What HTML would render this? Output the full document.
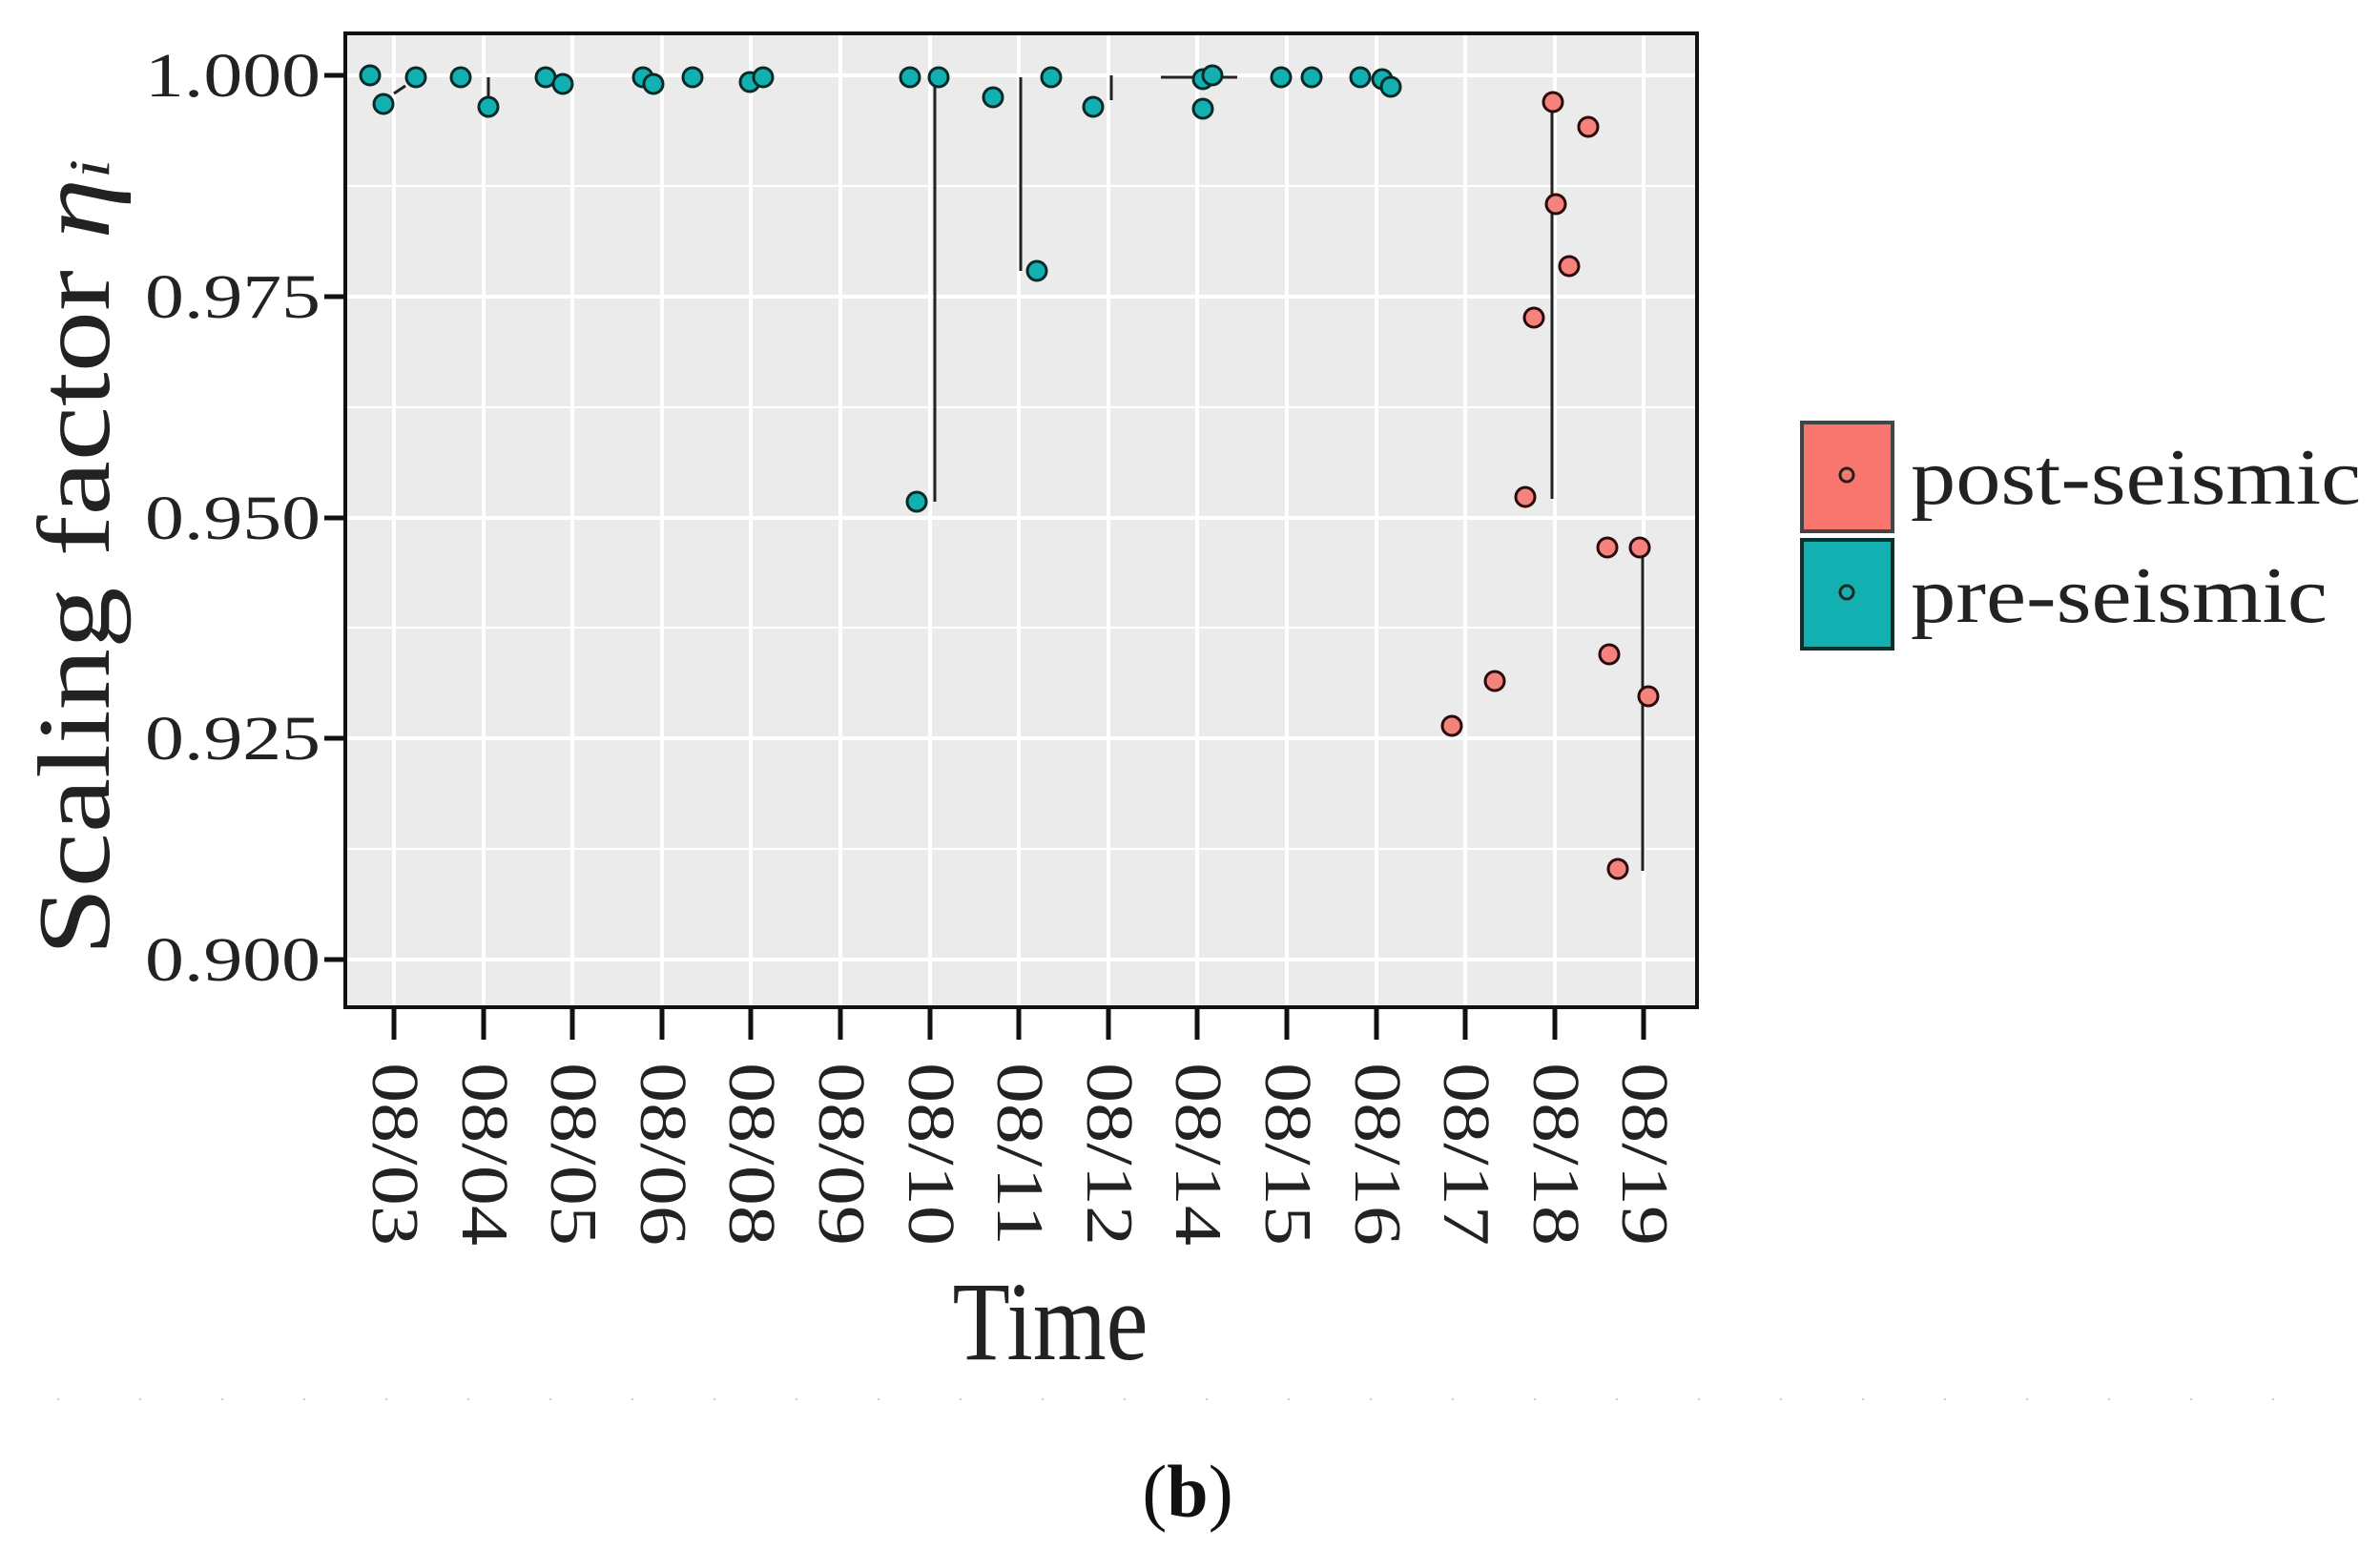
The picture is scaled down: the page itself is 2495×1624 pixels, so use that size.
<!DOCTYPE html>
<html><head><meta charset="utf-8"><style>html,body{margin:0;padding:0;background:#fff}svg{display:block}text,tspan{font-family:'Liberation Serif','Times New Roman',Times,serif !important}</style></head>
<body>
<svg width="2495" height="1624" viewBox="0 0 2495 1624" xmlns="http://www.w3.org/2000/svg" font-family="'Liberation Serif', 'Times New Roman', serif">
<rect x="0" y="0" width="2495" height="1624" fill="#fff"/>
<rect x="362" y="35" width="1417" height="1021" fill="#ebebeb"/>
<g stroke="#fff">
<g stroke-width="2">
<line x1="362" x2="1779" y1="195" y2="195"/><line x1="362" x2="1779" y1="427" y2="427"/>
<line x1="362" x2="1779" y1="658" y2="658"/><line x1="362" x2="1779" y1="890" y2="890"/>
</g>
<g stroke-width="4">
<line x1="362" x2="1779" y1="79" y2="79"/><line x1="362" x2="1779" y1="311" y2="311"/>
<line x1="362" x2="1779" y1="543" y2="543"/><line x1="362" x2="1779" y1="774" y2="774"/>
<line x1="362" x2="1779" y1="1006" y2="1006"/>
<line y1="35" y2="1056" x1="413" x2="413"/><line y1="35" y2="1056" x1="507" x2="507"/>
<line y1="35" y2="1056" x1="600" x2="600"/><line y1="35" y2="1056" x1="694" x2="694"/>
<line y1="35" y2="1056" x1="787" x2="787"/><line y1="35" y2="1056" x1="881" x2="881"/>
<line y1="35" y2="1056" x1="975" x2="975"/><line y1="35" y2="1056" x1="1068" x2="1068"/>
<line y1="35" y2="1056" x1="1162" x2="1162"/><line y1="35" y2="1056" x1="1255" x2="1255"/>
<line y1="35" y2="1056" x1="1349" x2="1349"/><line y1="35" y2="1056" x1="1443" x2="1443"/>
<line y1="35" y2="1056" x1="1536" x2="1536"/><line y1="35" y2="1056" x1="1630" x2="1630"/>
<line y1="35" y2="1056" x1="1723" x2="1723"/>
</g></g>
<g stroke="#222" stroke-width="3">
<line x1="980" x2="980" y1="81" y2="526"/><line x1="1070" x2="1070" y1="81" y2="284"/>
<line x1="1165" x2="1165" y1="79" y2="105"/><line x1="1217" x2="1297" y1="81" y2="81"/>
<line x1="512" x2="512" y1="81" y2="105"/><line x1="413" x2="425" y1="98" y2="90"/>
<line x1="1627" x2="1627" y1="107" y2="523"/><line x1="1722" x2="1722" y1="574" y2="913"/>
</g>
<g fill="#12b0b0" stroke="#0a2a2a" stroke-width="3">
<circle cx="388" cy="79" r="10"/><circle cx="402" cy="109" r="10"/><circle cx="436" cy="81" r="10"/>
<circle cx="483" cy="81" r="10"/><circle cx="512" cy="112" r="10"/><circle cx="572" cy="81" r="10"/>
<circle cx="590" cy="88" r="10"/><circle cx="674" cy="81" r="10"/><circle cx="685" cy="88" r="10"/>
<circle cx="726" cy="81" r="10"/><circle cx="786" cy="86" r="10"/><circle cx="800" cy="81" r="10"/>
<circle cx="954" cy="81" r="10"/><circle cx="984" cy="81" r="10"/><circle cx="961" cy="526" r="10"/>
<circle cx="1041" cy="102" r="10"/><circle cx="1087" cy="284" r="10"/><circle cx="1102" cy="81" r="10"/>
<circle cx="1146" cy="112" r="10"/><circle cx="1261" cy="83" r="10"/><circle cx="1271" cy="79" r="10"/>
<circle cx="1261" cy="114" r="10"/><circle cx="1343" cy="81" r="10"/><circle cx="1375" cy="81" r="10"/>
<circle cx="1426" cy="81" r="10"/><circle cx="1449" cy="83" r="10"/><circle cx="1458" cy="91" r="10"/>
</g>
<g fill="#f4837d" stroke="#2a0a0a" stroke-width="3">
<circle cx="1628" cy="107" r="10"/><circle cx="1665" cy="133" r="10"/><circle cx="1631" cy="214" r="10"/>
<circle cx="1645" cy="279" r="10"/><circle cx="1608" cy="333" r="10"/><circle cx="1599" cy="521" r="10"/>
<circle cx="1685" cy="574" r="10"/><circle cx="1719" cy="574" r="10"/><circle cx="1687" cy="686" r="10"/>
<circle cx="1567" cy="714" r="10"/><circle cx="1522" cy="761" r="10"/><circle cx="1728" cy="730" r="10"/>
<circle cx="1696" cy="911" r="10"/>
</g>
<rect x="362" y="35" width="1417" height="1021" fill="none" stroke="#111" stroke-width="4"/>
<g stroke="#111" stroke-width="5">
<line x1="340" x2="362" y1="79" y2="79"/><line x1="340" x2="362" y1="311" y2="311"/>
<line x1="340" x2="362" y1="543" y2="543"/><line x1="340" x2="362" y1="774" y2="774"/>
<line x1="340" x2="362" y1="1006" y2="1006"/>
<line y1="1056" y2="1090" x1="413" x2="413"/><line y1="1056" y2="1090" x1="507" x2="507"/>
<line y1="1056" y2="1090" x1="600" x2="600"/><line y1="1056" y2="1090" x1="694" x2="694"/>
<line y1="1056" y2="1090" x1="787" x2="787"/><line y1="1056" y2="1090" x1="881" x2="881"/>
<line y1="1056" y2="1090" x1="975" x2="975"/><line y1="1056" y2="1090" x1="1068" x2="1068"/>
<line y1="1056" y2="1090" x1="1162" x2="1162"/><line y1="1056" y2="1090" x1="1255" x2="1255"/>
<line y1="1056" y2="1090" x1="1349" x2="1349"/><line y1="1056" y2="1090" x1="1443" x2="1443"/>
<line y1="1056" y2="1090" x1="1536" x2="1536"/><line y1="1056" y2="1090" x1="1630" x2="1630"/>
<line y1="1056" y2="1090" x1="1723" x2="1723"/>
</g>
<g font-size="66" fill="#222" text-anchor="end">
<text x="336" y="101" textLength="184" lengthAdjust="spacingAndGlyphs">1.000</text>
<text x="336" y="333" textLength="184" lengthAdjust="spacingAndGlyphs">0.975</text>
<text x="336" y="565" textLength="184" lengthAdjust="spacingAndGlyphs">0.950</text>
<text x="336" y="796" textLength="184" lengthAdjust="spacingAndGlyphs">0.925</text>
<text x="336" y="1028" textLength="184" lengthAdjust="spacingAndGlyphs">0.900</text>
</g>
<g font-size="70" fill="#222">
<text transform="translate(391,1114) rotate(90)" textLength="192" lengthAdjust="spacingAndGlyphs">08/03</text>
<text transform="translate(485,1114) rotate(90)" textLength="192" lengthAdjust="spacingAndGlyphs">08/04</text>
<text transform="translate(578,1114) rotate(90)" textLength="192" lengthAdjust="spacingAndGlyphs">08/05</text>
<text transform="translate(672,1114) rotate(90)" textLength="192" lengthAdjust="spacingAndGlyphs">08/06</text>
<text transform="translate(765,1114) rotate(90)" textLength="192" lengthAdjust="spacingAndGlyphs">08/08</text>
<text transform="translate(859,1114) rotate(90)" textLength="192" lengthAdjust="spacingAndGlyphs">08/09</text>
<text transform="translate(953,1114) rotate(90)" textLength="192" lengthAdjust="spacingAndGlyphs">08/10</text>
<text transform="translate(1046,1114) rotate(90)" textLength="192" lengthAdjust="spacingAndGlyphs">08/11</text>
<text transform="translate(1140,1114) rotate(90)" textLength="192" lengthAdjust="spacingAndGlyphs">08/12</text>
<text transform="translate(1233,1114) rotate(90)" textLength="192" lengthAdjust="spacingAndGlyphs">08/14</text>
<text transform="translate(1327,1114) rotate(90)" textLength="192" lengthAdjust="spacingAndGlyphs">08/15</text>
<text transform="translate(1421,1114) rotate(90)" textLength="192" lengthAdjust="spacingAndGlyphs">08/16</text>
<text transform="translate(1514,1114) rotate(90)" textLength="192" lengthAdjust="spacingAndGlyphs">08/17</text>
<text transform="translate(1608,1114) rotate(90)" textLength="192" lengthAdjust="spacingAndGlyphs">08/18</text>
<text transform="translate(1701,1114) rotate(90)" textLength="192" lengthAdjust="spacingAndGlyphs">08/19</text>
</g>
<text transform="translate(114,1002) rotate(-90)" font-size="108" fill="#222" textLength="835" lengthAdjust="spacingAndGlyphs">Scaling factor <tspan font-style="italic">η</tspan><tspan font-style="italic" font-size="60">i</tspan></text>
<text x="1101" y="1425" font-size="118" fill="#222" text-anchor="middle" textLength="205" lengthAdjust="spacingAndGlyphs">Time</text>
<rect x="1889" y="443" width="95" height="114" fill="#f8766d" stroke="#444" stroke-width="4"/>
<rect x="1889" y="566" width="95" height="114" fill="#12b0b0" stroke="#0a3030" stroke-width="4"/>
<circle cx="1936" cy="498" r="7" fill="none" stroke="#222" stroke-width="3"/>
<circle cx="1936" cy="621" r="7" fill="none" stroke="#222" stroke-width="3"/>
<g font-size="84" fill="#222">
<text x="2003" y="528" textLength="472" lengthAdjust="spacingAndGlyphs">post-seismic</text>
<text x="2003" y="652" textLength="437" lengthAdjust="spacingAndGlyphs">pre-seismic</text>
</g>
<line x1="60" x2="2440" y1="1467" y2="1467" stroke="#ccc" stroke-width="2" stroke-dasharray="2,84"/>
<text x="1245" y="1590" font-size="78" fill="#111" text-anchor="middle">(<tspan font-weight="bold">b</tspan>)</text>
</svg>
</body></html>
